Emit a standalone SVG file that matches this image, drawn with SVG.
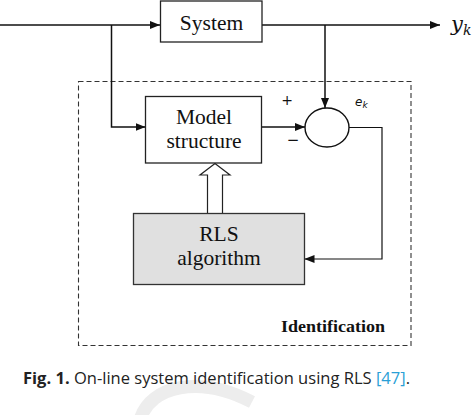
<svg xmlns="http://www.w3.org/2000/svg" width="474" height="415" viewBox="0 0 474 415">
<style>
.box{fill:#fff;stroke:#222;stroke-width:1.3}
.gray{fill:#e0e0e0;stroke:#333;stroke-width:1.3}
.lbl{font-family:"Liberation Serif",serif;font-size:21.5px;fill:#111;text-anchor:middle}
.ln{fill:none;stroke:#111;stroke-width:1.5}
.ln2{fill:none;stroke:#111;stroke-width:1.2}
</style>
<defs>
<marker id="ah" markerWidth="10" markerHeight="8" refX="10" refY="4" orient="auto" markerUnits="userSpaceOnUse">
<path d="M0,0 L10,4 L0,8 Z" fill="#111"/>
</marker>
</defs>
<rect width="474" height="415" fill="#fff"/>
<path d="M140,420 C150,385 200,375 252,402" fill="none" stroke="#ededed" stroke-width="13"/>
<rect x="78.5" y="81.5" width="332.5" height="264" fill="none" stroke="#333" stroke-width="1.1" stroke-dasharray="5,3"/>
<g id="connectors">
<path class="ln" d="M0,25 H160" marker-end="url(#ah)"/>
<path class="ln" d="M111.5,25 V127 H145.5" marker-end="url(#ah)"/>
<path class="ln" d="M262,25 H440" marker-end="url(#ah)"/>
<path class="ln" d="M325,25 V108" marker-end="url(#ah)"/>
<path class="ln" d="M262,127 H305" marker-end="url(#ah)"/>
<path class="ln2" d="M349,127.5 H382 V259 H304.5" marker-end="url(#ah)"/>
<path d="M207.5,213.5 V175 H200 L215,163.5 L230,175 H222.5 V213.5" fill="#fff" stroke="#222" stroke-width="1.2"/>
</g>
<g id="system">
<rect class="box" x="160.5" y="1" width="101.5" height="41"/>
<text class="lbl" x="211.5" y="29.5">System</text>
</g>
<g id="model">
<rect class="box" x="145.5" y="96.5" width="116" height="66.5"/>
<text class="lbl" x="204" y="124">Model</text>
<text class="lbl" x="204" y="147.5">structure</text>
</g>
<g id="sum">
<ellipse cx="327" cy="127.5" rx="22" ry="19.5" fill="#fff" stroke="#111" stroke-width="1.4"/>
<text x="287" y="105" font-family="DejaVu Sans,sans-serif" font-size="14" text-anchor="middle" fill="#111">+</text>
<text x="293" y="145" font-family="DejaVu Sans,sans-serif" font-size="15" text-anchor="middle" fill="#111">−</text>
<text x="355" y="106" font-family="DejaVu Sans,sans-serif" font-style="italic" font-size="12" fill="#111">e<tspan font-size="9" dy="2">k</tspan></text>
</g>
<g id="rls">
<rect class="gray" x="133.5" y="213.5" width="171" height="71"/>
<text class="lbl" x="219" y="240.5">RLS</text>
<text class="lbl" x="219" y="265">algorithm</text>
</g>
<g id="output">
<text x="451" y="31" font-family="DejaVu Serif,serif" font-style="italic" font-size="21" fill="#111">y<tspan font-size="14" dy="4">k</tspan></text>
</g>
<text x="281" y="332" font-family="Liberation Serif,serif" font-weight="bold" font-size="16" fill="#111" textLength="104" lengthAdjust="spacingAndGlyphs">Identification</text>
<text x="23" y="384" font-family="Open Sans,sans-serif" font-size="15.5" fill="#222" textLength="387" lengthAdjust="spacingAndGlyphs"><tspan font-weight="bold">Fig. 1.</tspan> On-line system identification using RLS <tspan fill="#2a9fd6">[47]</tspan>.</text>
</svg>
